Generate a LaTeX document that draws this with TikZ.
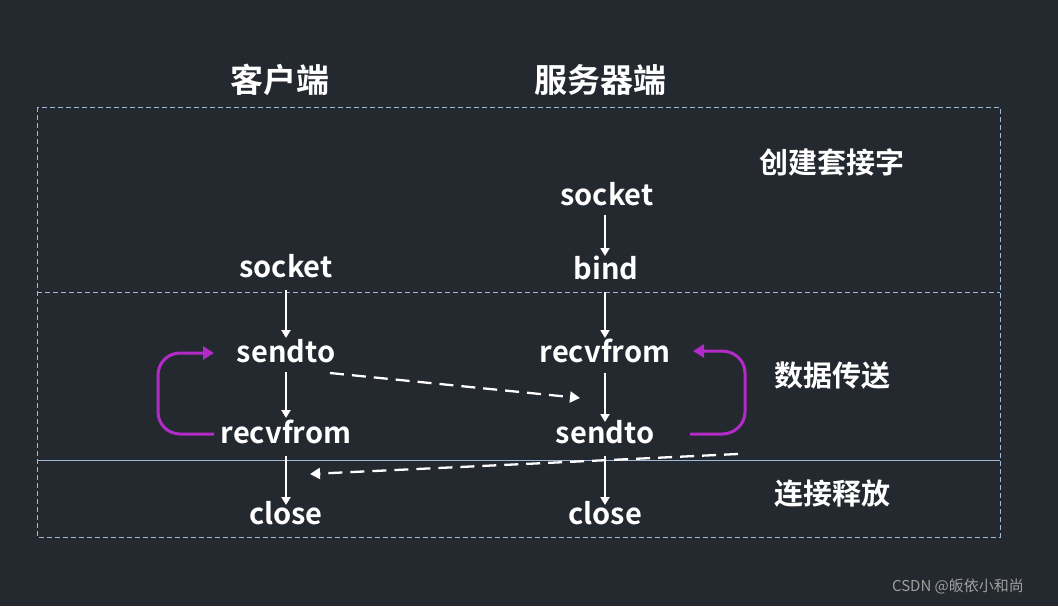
\documentclass[tikz,border=0pt]{standalone}
\usepackage{fontspec}
\setmainfont{Noto Sans CJK SC}[BoldFont={Noto Sans CJK SC Bold}]
\usetikzlibrary{arrows.meta}
\definecolor{bg}{HTML}{24282F}
\definecolor{frame}{HTML}{9DB8D8}
\definecolor{loopc}{HTML}{B22BC8}
\tikzset{
  lbl/.style={text=white,font=\bfseries\fontsize{29}{31}\selectfont,inner sep=0pt},
  zh/.style={text=white,font=\bfseries\fontsize{29}{31}\selectfont,inner sep=0pt},
  title/.style={text=white,font=\bfseries\fontsize{33}{35}\selectfont,inner sep=0pt},
  arr/.style={draw=white,line width=2.3pt,-{Triangle[length=8pt,width=9pt]}},
  darr/.style={draw=white,line width=2.3pt,dash pattern=on 14pt off 8pt,-{Triangle[length=10pt,width=11pt]}},
  larr/.style={draw=loopc,line width=3pt,-{Triangle[length=11pt,width=13pt]}},
  bx/.style={draw=frame,line width=1pt,dash pattern=on 5pt off 3pt}
}
\begin{document}
\begin{tikzpicture}[x=1pt,y=-1pt]
\fill[bg] (0,0) rectangle (1058,606);
\draw[bx] (37,107) rectangle (1000,537);
\draw[bx] (37,292) -- (1000,292);
\draw[frame,line width=1pt] (37,460) -- (1000,460);
\node[title] (ct) at (280,80) {客户端};
\node[title] (st) at (600,80) {服务器端};
\node[zh] (z1) at (832,162) {创建套接字};
\node[zh] (z2) at (832,376) {数据传送};
\node[zh] (z3) at (832,494) {连接释放};
\node[lbl] (cs) at (286,266) {socket};
\node[lbl] (csd) at (286,351) {sendto};
\node[lbl] (crf) at (286,432) {recvfrom};
\node[lbl] (ccl) at (286,513) {close};
\node[lbl] (ss) at (607,194) {socket};
\node[lbl] (sb) at (606,268) {bind};
\node[lbl] (srf) at (605,351) {recvfrom};
\node[lbl] (ssd) at (605,432) {sendto};
\node[lbl] (scl) at (605,513) {close};
\draw[arr] (286,290) -- (286,338);
\draw[arr] (286,372) -- (286,418);
\draw[arr] (286,456) -- (286,505);
\draw[arr] (605,215) -- (605,256);
\draw[arr] (605,292) -- (605,338);
\draw[arr] (605,373) -- (605,422);
\draw[arr] (605,456) -- (605,505);
\coordinate (d1) at (330,373); \coordinate (d2) at (580,398);
\draw[darr] (d1) -- (d2);
\coordinate (d3) at (738,454); \coordinate (d4) at (310,474);
\draw[darr] (d3) -- (d4);
\coordinate (l1) at (214,434); \coordinate (l2) at (214,353);
\draw[larr] (l1) -- (180,434) to[out=180,in=270] (158,412) -- (158,375) to[out=90,in=180] (180,353) -- (l2);
\coordinate (r1) at (690,434); \coordinate (r2) at (693,351);
\draw[larr] (r1) -- (722,434) to[out=0,in=270] (745,412) -- (745,373) to[out=90,in=0] (722,351) -- (r2);
\node[text=gray!75,font=\fontsize{15}{16}\selectfont,inner sep=0pt] (wm) at (958,586) {CSDN @皈依小和尚};
\end{tikzpicture}
\end{document}
